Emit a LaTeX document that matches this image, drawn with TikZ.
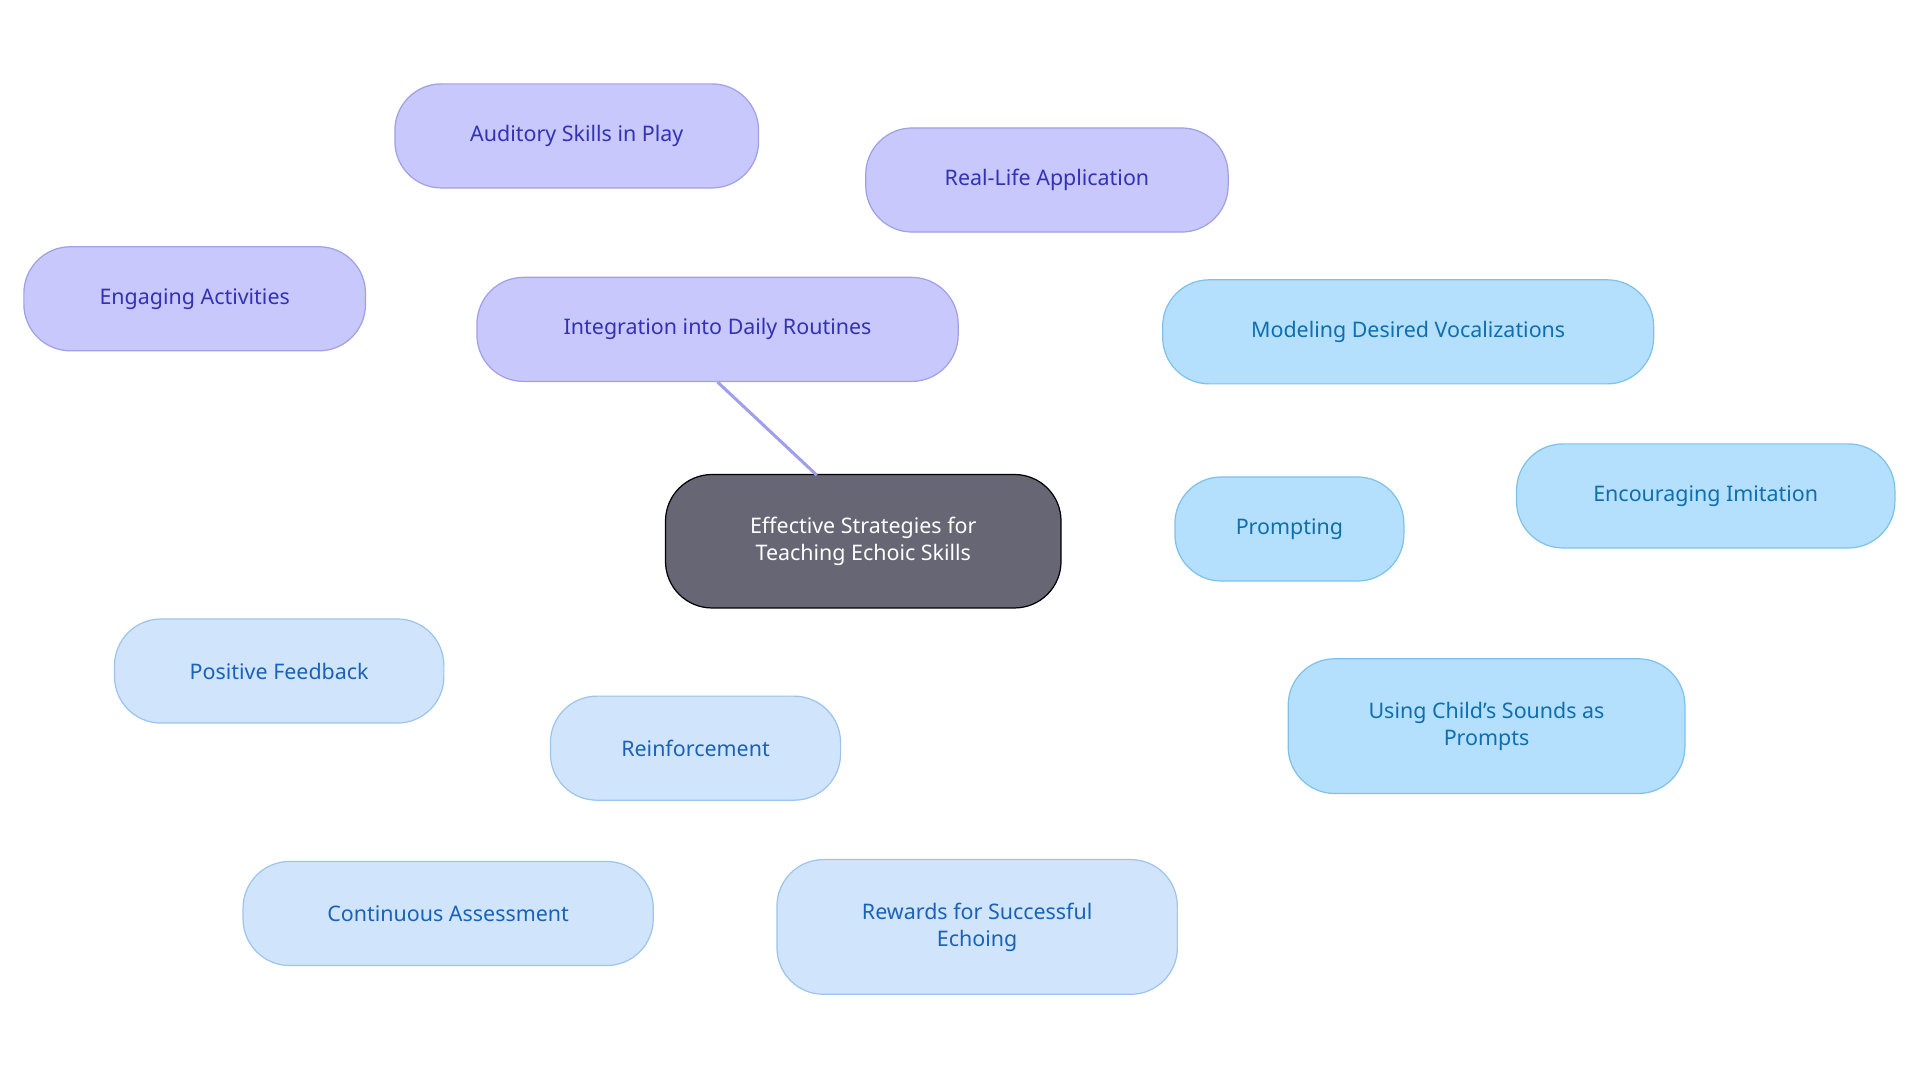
\documentclass[tikz,border=0pt]{standalone}
\usepackage{fontspec}
\setmainfont{Noto Sans}
\begin{document}
\begin{tikzpicture}[x=1pt,y=-1pt,
  base/.style={rounded corners=38pt,draw,line width=1pt,align=center,font=\fontsize{17.5}{22}\selectfont,inner sep=0pt},
  pur/.style={base,fill=pfill,draw=pdraw,text=ptext},
  blu/.style={base,fill=bfill,draw=bdraw,text=btext},
  lbl/.style={base,fill=lfill,draw=ldraw,text=ltext},
  pe/.style={draw=pline,line width=2.5pt},
  be/.style={draw=bline,line width=2.5pt},
  le/.style={draw=lline,line width=2.5pt}]
\definecolor{pfill}{HTML}{C8C8FC}\definecolor{pdraw}{HTML}{A0A0E6}\definecolor{ptext}{HTML}{3232B4}\definecolor{pline}{HTML}{A0A0EA}
\definecolor{bfill}{HTML}{B4E0FD}\definecolor{bdraw}{HTML}{7EC2EC}\definecolor{btext}{HTML}{0F6EAE}\definecolor{bline}{HTML}{80C0E8}
\definecolor{lfill}{HTML}{D0E5FB}\definecolor{ldraw}{HTML}{9EC4EE}\definecolor{ltext}{HTML}{1A62B8}\definecolor{lline}{HTML}{9EC4EE}
\useasboundingbox (0,0) rectangle (1568,884);
\node[base,fill=black!90!blue!60,draw=black,text=white,minimum width=323pt,minimum height=109pt] (c) at (705,442) {Effective Strategies for\\Teaching Echoic Skills};
\node[pur,minimum width=393pt,minimum height=85pt] (i) at (586,269) {Integration into Daily Routines};
\node[pur,minimum width=297pt,minimum height=85pt] (a) at (471,111) {Auditory Skills in Play};
\node[pur,minimum width=296pt,minimum height=85pt] (r) at (855,147) {Real-Life Application};
\node[pur,minimum width=279pt,minimum height=85pt] (e) at (159,244) {Engaging Activities};
\node[blu,minimum width=187pt,minimum height=85pt] (p) at (1053,432) {Prompting};
\node[blu,minimum width=401pt,minimum height=85pt] (m) at (1150,271) {Modeling Desired Vocalizations};
\node[blu,minimum width=309pt,minimum height=85pt] (ei) at (1393,405) {Encouraging Imitation};
\node[blu,minimum width=324pt,minimum height=110pt] (u) at (1214,593) {Using Child's Sounds as\\Prompts};
\node[lbl,minimum width=237pt,minimum height=85pt] (rf) at (568,611) {Reinforcement};
\node[lbl,minimum width=269pt,minimum height=85pt] (pf) at (228,548) {Positive Feedback};
\node[lbl,minimum width=335pt,minimum height=85pt] (ca) at (366,746) {Continuous Assessment};
\node[lbl,minimum width=327pt,minimum height=110pt] (rw) at (798,757) {Rewards for Successful\\Echoing};
\begin{scope}[on background layer/.style={}]
\end{scope}
\draw[pe] (c.north) ++(-38,0) coordinate (c1);
\path[pe] (667,388) coordinate (x1) (615,312) coordinate (x2);
\draw[pe] (c) ++(-38,-54) -- (i.south) ++(29,0);
\end{tikzpicture}
\end{document}
